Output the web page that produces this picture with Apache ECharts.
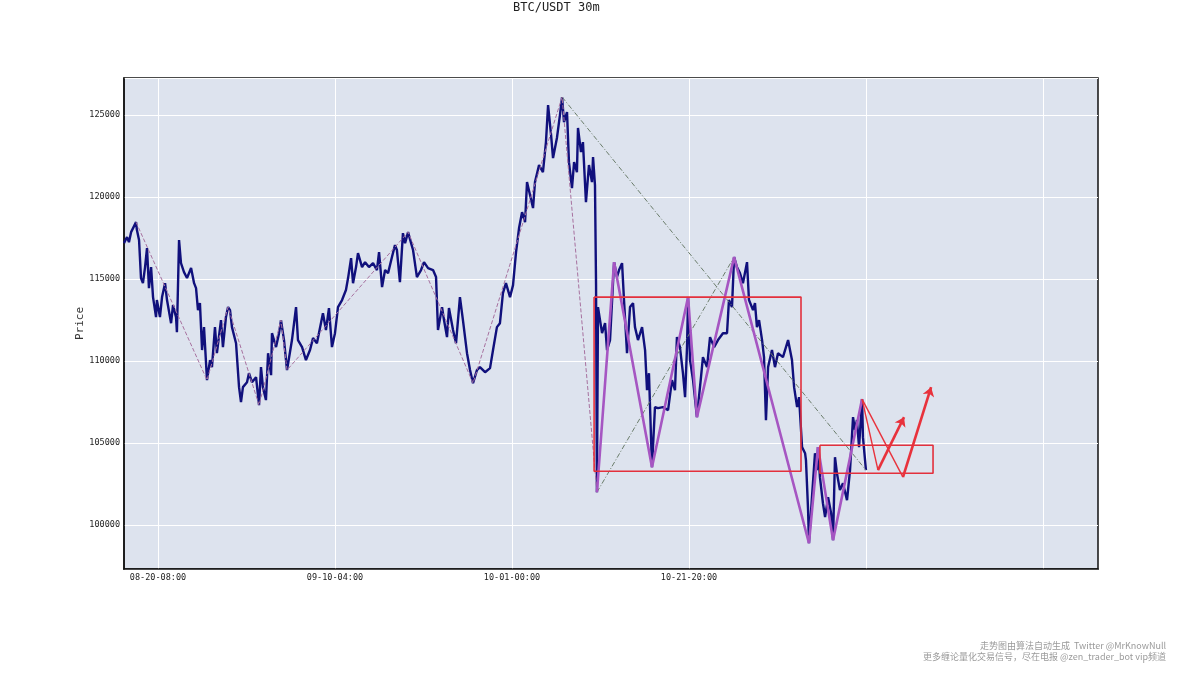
<!DOCTYPE html>
<html>
<head>
<meta charset="utf-8">
<title>BTC/USDT 30m</title>
<script src="https://cdn.jsdelivr.net/npm/echarts@6/dist/echarts.min.js"></script>
<style>
html, body { margin: 0; background: #fff; }
#main { width: 1200px; height: 688px; }
</style>
</head>
<body>
<div id="main"></div>
<script>
// one category per 30m bar, index 0 = left edge of the plot (08-16 08:00)
const barCount = 5504;
const tickIdx = [192, 1192, 2192, 3192, 4192, 5192];
const tickLabels = ['08-20-08:00', '09-10-04:00', '10-01-00:00', '10-21-20:00', '', ''];

// price path (bar index / price)
const barIdx = [0,17,28,40,51,68,73,85,96,107,119,130,141,153,164,181,186,203,215,232,243,266,277,294,299,311,322,339,356,379,396,407,418,429,441,452,469,486,497,514,525,548,559,576,588,599,610,633,650,661,672,695,706,723,746,763,774,785,802,814,831,836,859,876,887,904,
  921,949,972,983,1006,1028,1051,1068,1090,1124,1141,1158,1175,1192,1209,1232,1254,1266,1283,1294,1311,1322,1345,1362,1384,1407,1429,1441,1458,1475,1492,1514,1531,1542,1559,1576,1588,1605,1622,1633,1655,1678,1695,1718,1746,1763,1774,1797,1808,1825,1836,1859,1876,1898,1915,1938,1955,1972,1994,2011,2040,2068,2085,2107,2124,2141,2158,2181,
  2198,2215,2232,2249,2266,2277,2294,2311,2322,2345,2367,2384,2396,2413,2424,2446,2463,2475,2486,2503,2514,2531,2543,2559,2565,2582,2593,2610,2627,2644,2650,2661,2667,2672,
  2678,2701,2718,2729,2746,2769,2785,2797,2814,2825,2842,2859,2876,2887,2904,2927,2944,2955,2966,2983,3000,3017,3045,3074,3096,3113,3124,3141,3158,3170,3181,3187,3198,3215,3237,3260,3271,3294,3311,3334,3356,3384,3407,3418,3435,3447,3463,3480,3497,3520,3531,3554,3565,3576,3588,3605,3616,3627,3639,3661,3678,3695,3723,3752,3774,3786,3803,3814,3831,3848,3853,3865,3870,
  3887,3904,3915,3921,3932,3949,3961,3978,3995,4006,4017,4028,4045,4062,4085,4102,4119,4130,4141,4153,4170,4175,4192];
const price = [117190,117560,117250,117860,117800,118470,117990,117380,115060,114750,115730,116890,114450,115730,113900,112680,113720,112680,113900,114750,113720,112310,113410,112680,111760,117380,115970,115420,115060,115670,114750,114450,113110,113530,110670,112070,108840,110060,109630,112070,110480,112500,110850,112680,113290,113110,112070,111090,108410,107490,108410,108710,109260,108710,109020,107310,109630,108410,107620,110480,109140,111700,110850,111700,112500,111280,
  109450,111280,113290,111280,110850,110060,110670,111400,111090,112920,111890,113230,110850,111700,113290,113720,114330,115060,116280,114750,115730,116580,115730,116030,115730,115970,115550,116640,114510,115550,115360,116340,117070,116770,114810,117800,117190,117860,117190,116770,115120,115550,116030,115670,115550,115120,111890,113290,112500,111460,113230,111890,111090,113900,112500,110480,109450,108650,109450,109630,109320,109570,110670,112070,112310,114140,114750,113900,
  114630,116640,118110,119080,118470,120910,120120,119330,120910,121950,121520,123350,125610,123780,122380,123600,125000,126100,124570,125180,122130,120550,122130,121520,124210,122740,123350,119690,121950,120910,122440,120730,114630,102000,
  113290,111700,112310,110670,111280,116030,115120,115550,115970,113720,110480,113290,113530,112070,111280,112070,110670,108230,109260,103530,107190,107130,107190,107010,108840,108230,111460,110850,109260,107800,110850,113900,110060,108840,106580,109020,110240,109630,111460,110850,111280,111700,111700,113720,113290,116340,115730,115360,114750,116030,113720,113110,113530,112070,112500,111280,110240,106400,109630,110670,109630,110480,110240,111280,110060,108410,107190,107800,104750,104380,103960,100910,98890,
  101700,104380,103350,104750,102920,101330,100480,101700,100720,99080,104140,103160,102130,102550,101520,103350,106580,105790,106400,104750,107680,105360,103350];

// thin bi lines (pivot points)
const biIdx = [68, 469, 588, 763, 887, 921, 1605, 1972, 2475, 2672];
const biPrice = [118470, 108840, 113290, 107310, 112500, 109450, 117860, 108650, 126100, 102000];

// thick bi lines in the last swing
const thickIdx = [2672, 2769, 2983, 3187, 3237, 3447, 3870, 3921, 4006, 4170];
const thickPrice = [102000, 116030, 103530, 113900, 106580, 116340, 98890, 104750, 99080, 107680];

// segment lines
const segLines = [
  [[2475, 126100], [4192, 103350]],
  [[2672, 102000], [3447, 116340]]
];

// pivot boxes: [startBar, endBar, high, low]
const boxes = [
  [2656, 3825, 113900, 103280],
  [3932, 4571, 104870, 103160]
];

// projected moves
const projDown = [
  [[4170, 107680], [4260, 103350]],
  [[4170, 107680], [4401, 102920]]
];
const projUp = [
  [[4260, 103350], [4407, 106580]],
  [[4401, 102920], [4560, 108410]]
];

const categories = Array.from({ length: barCount }, (_, i) => String(i));
const zip = (xs, ys) => xs.map((x, i) => [x, ys[i]]);
const isTick = (i) => tickIdx.indexOf(i) >= 0;

const boxSeries = boxes.map(b => ({
  type: 'line',
  data: [[b[0], b[2]], [b[1], b[2]], [b[1], b[3]], [b[0], b[3]], [b[0], b[2]]],
  showSymbol: false,
  lineStyle: { color: '#e3303c', width: 1.6 },
  z: 4
}));

const chart = echarts.init(document.getElementById('main'));
chart.setOption({
  animation: false,
  title: {
    text: 'BTC/USDT 30m',
    left: 508,
    top: 0,
    padding: [2, 5],
    textStyle: { fontFamily: 'DejaVu Sans Mono', fontSize: 12, fontWeight: 'normal', color: '#222' }
  },
  grid: {
    left: 124, right: 102, top: 78, bottom: 119,
    show: true,
    backgroundColor: '#dde3ee',
    borderColor: '#111',
    borderWidth: 1.5
  },
  xAxis: {
    type: 'category',
    data: categories,
    boundaryGap: false,
    axisLine: { show: true, lineStyle: { color: '#111', width: 1.5 } },
    axisTick: { show: false },
    axisLabel: {
      interval: (i) => isTick(i),
      formatter: (v) => tickLabels[tickIdx.indexOf(Number(v))] || '',
      margin: 4,
      color: '#222',
      fontFamily: 'DejaVu Sans Mono',
      fontSize: 8.5
    },
    splitLine: { show: true, interval: (i) => isTick(i), lineStyle: { color: '#fff', width: 1 } }
  },
  yAxis: {
    type: 'value',
    min: 97320,
    max: 127260,
    splitNumber: 6,
    name: 'Price',
    nameLocation: 'middle',
    nameGap: 38,
    nameMoveOverlap: false,
    nameTextStyle: { fontFamily: 'DejaVu Sans Mono', fontSize: 11, color: '#333' },
    axisLine: { show: true, lineStyle: { color: '#111', width: 1.5 } },
    axisTick: { show: false },
    axisLabel: {
      showMinLabel: false,
      showMaxLabel: false,
      formatter: (v) => String(v),
      margin: 4,
      color: '#222',
      fontFamily: 'DejaVu Sans Mono',
      fontSize: 8.5
    },
    splitLine: { show: true, lineStyle: { color: '#fff', width: 1 } }
  },
  series: [
    {
      type: 'line',
      data: zip(barIdx, price),
      showSymbol: false,
      lineStyle: { color: '#10107c', width: 2.4 },
      z: 2
    },
    {
      type: 'line',
      data: zip(biIdx, biPrice),
      showSymbol: false,
      lineStyle: { color: '#a7719f', width: 1, type: [4, 2] },
      z: 3
    },
    {
      type: 'lines',
      coordinateSystem: 'cartesian2d',
      data: segLines.map(c => ({ coords: c })),
      lineStyle: { color: '#6b7d6b', width: 1, type: [5, 2, 1, 2], opacity: 1 },
      z: 3
    },
    {
      type: 'line',
      data: zip(thickIdx, thickPrice),
      showSymbol: false,
      lineStyle: { color: '#a656c2', width: 2.6 },
      z: 4
    },
    ...boxSeries,
    {
      type: 'lines',
      coordinateSystem: 'cartesian2d',
      data: projDown.map(c => ({ coords: c })),
      lineStyle: { color: '#e8323c', width: 1.4, opacity: 1 },
      z: 5
    },
    {
      type: 'lines',
      coordinateSystem: 'cartesian2d',
      data: projUp.map(c => ({ coords: c })),
      symbol: ['none', 'arrow'],
      symbolSize: 9,
      lineStyle: { color: '#e8323c', width: 2.6, opacity: 1 },
      z: 5
    }
  ],
  graphic: [
    {
      type: 'text', right: 34, top: 641,
      style: { text: '走势图由算法自动生成  Twitter @MrKnowNull', fill: '#9a9a9a', font: '9px "Noto Sans CJK SC"', textAlign: 'right' }
    },
    {
      type: 'text', right: 34, top: 652,
      style: { text: '更多缠论量化交易信号，尽在电报 @zen_trader_bot vip频道', fill: '#9a9a9a', font: '9px "Noto Sans CJK SC"', textAlign: 'right' }
    }
  ]
});
</script>
</body>
</html>
